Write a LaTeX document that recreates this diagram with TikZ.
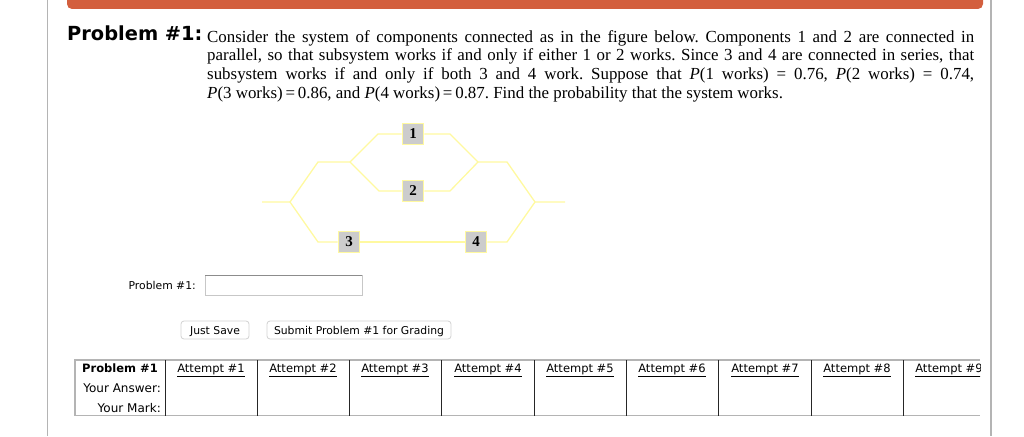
\documentclass[tikz,border=0pt]{standalone}
\usepackage{fontspec}
\setmainfont{Liberation Serif}
\newfontfamily\webfont{DejaVu Sans}
\definecolor{barcol}{HTML}{D35F3E}
\definecolor{wirecol}{HTML}{FFF9A0}
\definecolor{framecol}{HTML}{B4B4B4}
\tikzset{
    wire/.style={draw=wirecol, line width=1.3pt, line join=round},
    comp/.style={draw=wirecol, line width=1.6pt, fill=black!20, minimum size=21pt, inner sep=0pt, font=\fontsize{15}{15}\selectfont\bfseries},
    web/.style={font=\webfont\fontsize{11.5}{13}\selectfont, inner sep=0pt},
    btn/.style={draw=black!18, rounded corners=3pt, line width=.8pt, minimum height=18pt, inner sep=0pt, text height=10pt, text depth=2pt, font=\webfont\fontsize{10.8}{13}\selectfont}
}
\begin{document}
\begin{tikzpicture}[x=1pt, y=-1pt]
    \useasboundingbox (0, 0) rectangle (1024, 436);
    % page frame
    \draw[framecol, line width=1pt](47, 0)--(47, 436);
    \draw[framecol, line width=1.2pt](991, 0)--(991, 436);
    \fill[barcol, rounded corners=5pt](67, -10) rectangle (983, 9);
    % problem text
    \node[anchor=base west, inner sep=0pt, font=\webfont\bfseries\fontsize{19.4}{19}\selectfont] (title) at (67, 41) {Problem \#1:};
    \node[anchor=north west, inner sep=0pt, text width=767pt, align=justify, font=\frenchspacing\fontsize{16.9}{18.7}\selectfont] (question) at (207, 30) {Consider the system of components connected as in the figure below. Components 1 and 2 are connected in\linebreak parallel, so that subsystem works if and only if either 1 or 2 works. Since 3 and 4 are connected in series, that\linebreak subsystem works if and only if both 3 and 4 work. Suppose that \textit{P}(1 works) = 0.76, \textit{P}(2 works) = 0.74,\linebreak \textit{P}(3 works)\,=\,0.86, and \textit{P}(4 works)\,=\,0.87. Find the probability that the system works.};
    % system of components
    \node[comp] (c1) at (413, 134) {1};
    \node[comp] (c2) at (413, 191) {2};
    \node[comp] (c3) at (349, 242) {3};
    \node[comp] (c4) at (476, 242) {4};
    \coordinate (in) at (262, 202);
    \coordinate (out) at (565, 202);
    \coordinate (jl) at (290, 202);
    \coordinate (jr) at (535, 202);
    \coordinate (pl) at (350, 162);
    \coordinate (pr) at (478, 162);
    \draw[wire](in)--(jl)--(318, 162)--(pl);
    \draw[wire](pl)--(378, 134)--(c1.west);
    \draw[wire](pl)--(379, 191)--(c2.west);
    \draw[wire](c1.east)--(450, 134)--(pr);
    \draw[wire](c2.east)--(450, 191)--(pr);
    \draw[wire](pr)--(507, 162)--(jr)--(out);
    \draw[wire](jl)--(318, 242)--(c3.west);
    \draw[wire](c3.east)--(c4.west);
    \draw[wire](c4.east)--(507, 242)--(jr);
    % answer box and buttons
    \node[web, anchor=east, font=\webfont\fontsize{10.8}{13}\selectfont] (prompt) at (196, 285) {Problem \#1:};
    \draw[black!22, line width=.8pt, fill=white](205, 275) rectangle (362, 295);
    \draw[black!45, line width=.8pt](205, 275)--(362, 275);
    \node[btn, minimum width=68pt] (save) at (215, 330) {Just Save};
    \node[btn, minimum width=184pt] (submit) at (359, 330) {Submit Problem \#1 for Grading};
    % attempts table
    \draw[framecol, line width=1.2pt](980, 360)--(75, 360)--(75, 415.5)--(980, 415.5);
    \foreach \x in {165, 257, 349, 441, 534, 626, 718, 811, 903}
        \draw[black!85, line width=1pt](\x, 360)--(\x, 415.5);
    \node[web, anchor=base east, font=\webfont\bfseries\fontsize{11.5}{13}\selectfont] (head) at (158, 372) {Problem \#1};
    \node[web, anchor=base east, font=\webfont\fontsize{12}{13}\selectfont] (answer) at (161, 392) {Your Answer:};
    \node[web, anchor=base east, font=\webfont\fontsize{12}{13}\selectfont] (mark) at (161, 412) {Your Mark:};
    \begin{scope}
        \clip (165, 355) rectangle (980, 380);
        \foreach \x/\n in {211/1, 303/2, 395/3, 488/4, 580/5, 672/6, 765/7, 857/8, 949/9}
            \node[web, anchor=base] (att\n) at (\x, 372) {\underline{Attempt \#\n}};
    \end{scope}
\end{tikzpicture}
\end{document}
